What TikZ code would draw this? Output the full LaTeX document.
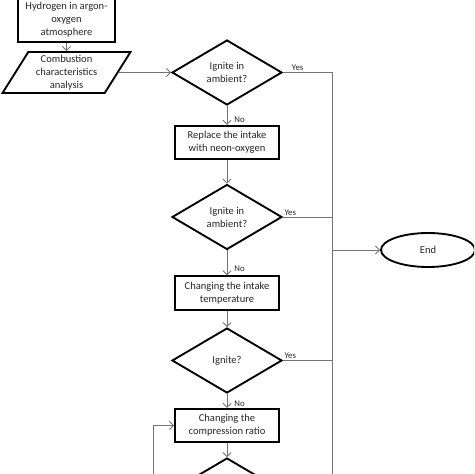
\documentclass[tikz,border=0pt]{standalone}
\usepackage{fontspec}
\setmainfont{Carlito}
\usetikzlibrary{shapes.geometric, arrows.meta, positioning}

\tikzset{
  flow/.style={draw=black, line width=1.6pt, align=center, text=black!85,
               font=\fontsize{9}{11}\selectfont, inner sep=1pt},
  procbox/.style={flow, rectangle, minimum width=3.12cm, minimum height=1.0cm},
  databox/.style={flow, trapezium, trapezium left angle=60, trapezium right angle=120,
                  trapezium stretches=true, minimum width=3.84cm, minimum height=1.23cm},
  decision/.style={flow, diamond, minimum width=3.3cm, minimum height=1.95cm, inner sep=0pt},
  terminal/.style={flow, ellipse, minimum width=2.82cm, minimum height=1.02cm},
  link/.style={draw=black!55, line width=0.7pt, -{Straight Barb[length=3.5pt,width=7pt]}},
  bus/.style={draw=black!55, line width=0.7pt},
  answer/.style={font=\fontsize{7.5}{8}\selectfont, text=black!85, inner sep=1pt},
}

\begin{document}
\begin{tikzpicture}[x=0.03cm, y=-0.03cm]
\useasboundingbox (0,0) rectangle (474,474);
\clip (0,0) rectangle (474,474);

%% Main column
\node[procbox, minimum width=2.91cm, minimum height=1.32cm] (gas) at (66.5,20)
  {Hydrogen in argon-\\oxygen\\atmosphere};
\node[databox] (study) at (66.5,72.5) {Combustion\\characteristics\\analysis};
\node[decision] (ign1) at (227,72.5) {Ignite in\\ambient?};
\node[procbox] (neon) at (227,142.5) {Replace the intake\\with neon-oxygen};
\node[decision] (ign2) at (227,217) {Ignite in\\ambient?};
\node[procbox] (temp) at (227,293) {Changing the intake\\temperature};
\node[decision] (ign3) at (227,360.5) {Ignite?};
\node[procbox] (comp) at (227,425.5) {Changing the\\compression ratio};
\node[decision] (ign4) at (227,490.5) {};
\node[terminal] (stop) at (428,250) {End};

%% Bus lines
\coordinate (busTop) at (332,72.5);
\coordinate (busBot) at (332,480);
\coordinate (loopBot) at (153,480);

%% Connectors
\draw[link] (gas) -- (study);
\draw[link] (study) -- (ign1);
\draw[link] (ign1) -- node[answer, right=5pt, pos=0.75] {No} (neon);
\draw[link] (neon) -- (ign2);
\draw[link] (ign2) -- node[answer, right=5pt, pos=0.75] {No} (temp);
\draw[link] (temp) -- (ign3);
\draw[link] (ign3) -- node[answer, right=5pt, pos=0.7] {No} (comp);
\draw[link] (comp) -- (ign4);
\draw[bus] (ign1.east) -- node[answer, above right, pos=0.15] {Yes} (busTop) -- (busBot);
\draw[bus] (ign2.east) -- node[answer, above right, pos=0] {Yes} (ign2.east -| busTop);
\draw[bus] (ign3.east) -- node[answer, above right, pos=0] {Yes} (ign3.east -| busTop);
\draw[link] (busTop |- stop.west) -- (stop.west);
\draw[link] (loopBot) |- (comp.west);
\end{tikzpicture}
\end{document}
